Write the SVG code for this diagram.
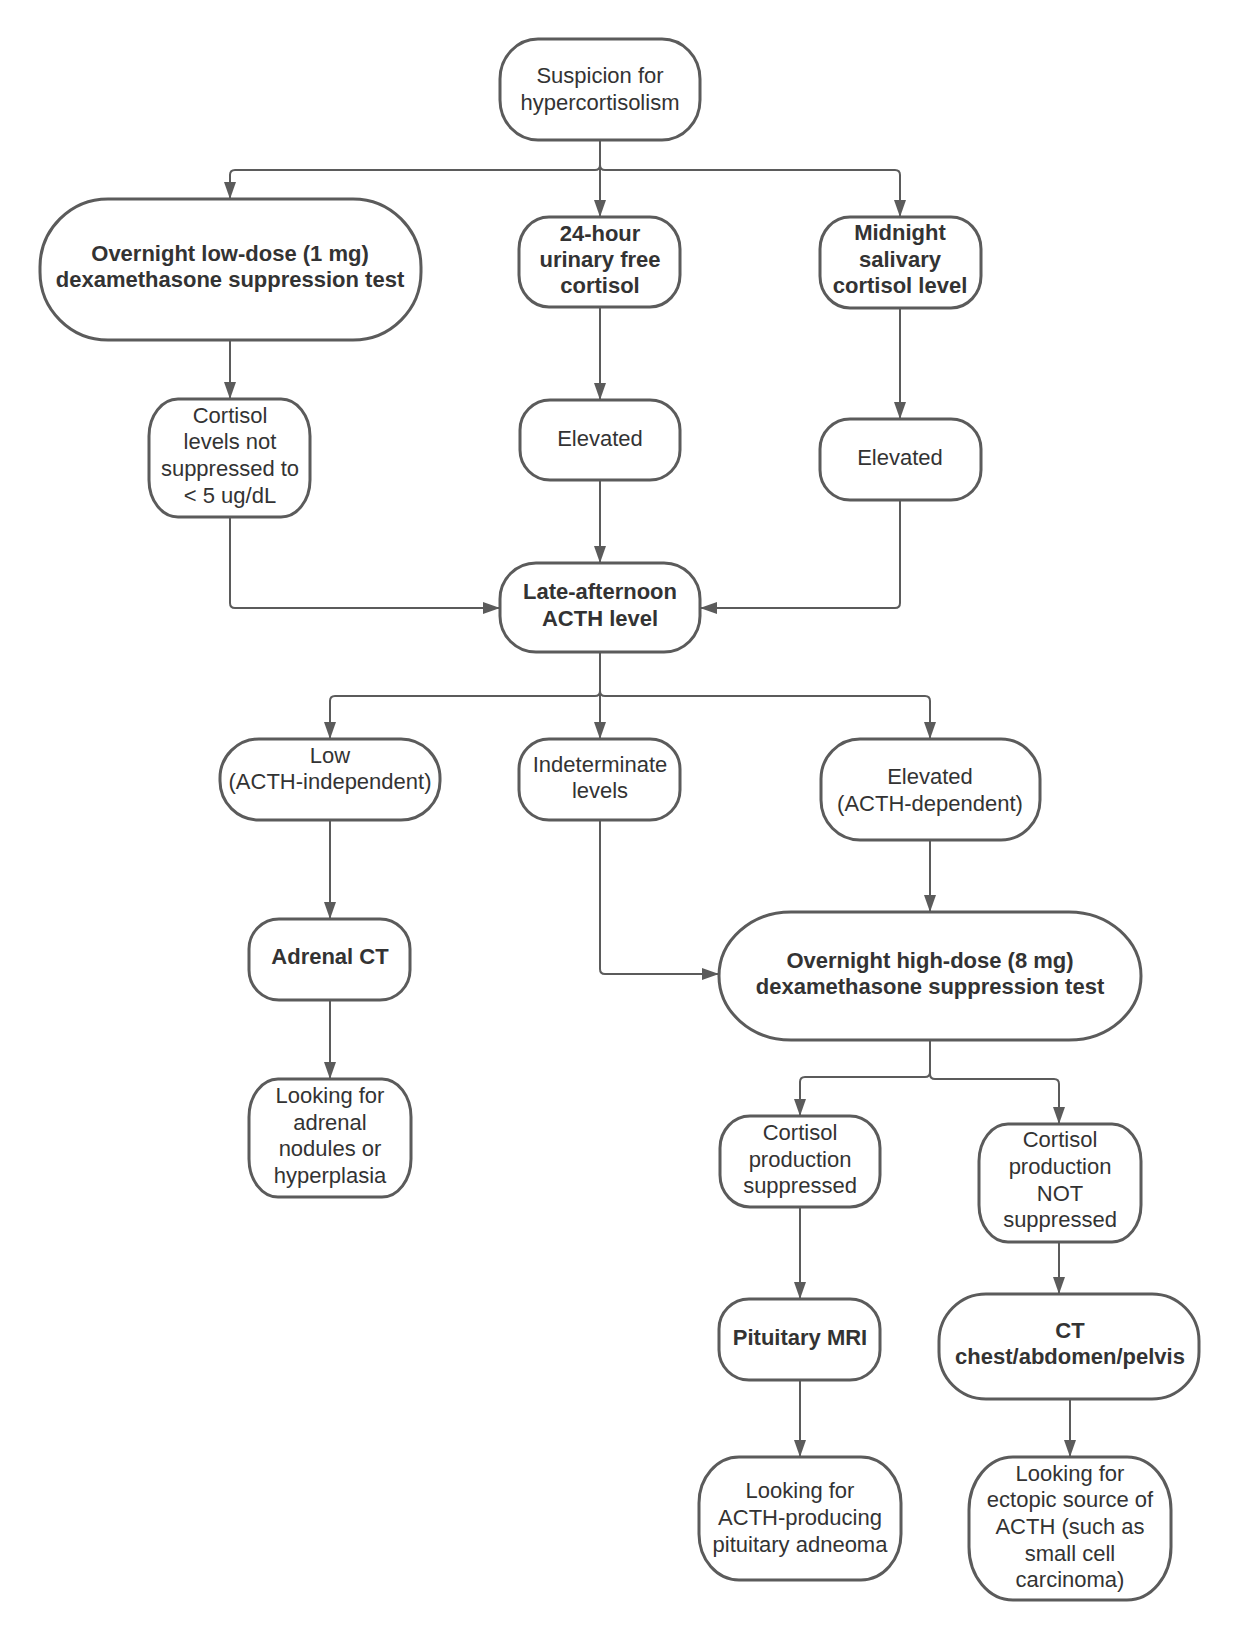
<svg xmlns="http://www.w3.org/2000/svg" width="1240" height="1640" viewBox="0 0 1240 1640">
<defs>
<style>
.n rect{fill:#ffffff;stroke:#5b5b5b;stroke-width:3}
.n text{font-family:"Liberation Sans",Arial,sans-serif;font-size:22px;fill:#333333;text-anchor:middle}
.n text.b{font-weight:bold}
#connectors path{fill:none;stroke:#5b5b5b;stroke-width:2}
#connectors path.a{marker-end:url(#arr)}
</style>
<marker id="arr" markerUnits="userSpaceOnUse" markerWidth="18" markerHeight="12" refX="17" refY="6" orient="auto">
<path d="M0,0 L17,6 L0,12 z" fill="#5b5b5b"/>
</marker>
</defs>
<rect x="0" y="0" width="1240" height="1640" fill="#ffffff"/>
<g id="connectors">
<path class="a" d="M600,140 V165 Q600,170 595,170 H235 Q230,170 230,175 V199"/>
<path class="a" d="M600,140 V217"/>
<path class="a" d="M600,140 V165 Q600,170 605,170 H895 Q900,170 900,175 V217"/>
<path class="a" d="M230,340 V399"/>
<path class="a" d="M600,307 V400"/>
<path class="a" d="M900,308 V419"/>
<path class="a" d="M230,517 V603 Q230,608 235,608 H500"/>
<path class="a" d="M600,480 V563"/>
<path class="a" d="M900,500 V603 Q900,608 895,608 H700"/>
<path class="a" d="M600,652 V691 Q600,696 595,696 H335 Q330,696 330,701 V739"/>
<path class="a" d="M600,652 V739"/>
<path class="a" d="M600,652 V691 Q600,696 605,696 H925 Q930,696 930,701 V739"/>
<path class="a" d="M330,820 V919"/>
<path class="a" d="M330,1000 V1079"/>
<path class="a" d="M600,820 V969 Q600,974 605,974 H719"/>
<path class="a" d="M930,840 V912"/>
<path class="a" d="M930,1040 V1072 Q930,1077 925,1077 H805 Q800,1077 800,1082 V1116"/>
<path class="a" d="M930,1040 V1074 Q930,1079 935,1079 H1054 Q1059,1079 1059,1084 V1124"/>
<path class="a" d="M800,1207 V1299"/>
<path class="a" d="M1059,1242 V1294"/>
<path class="a" d="M800,1380 V1457"/>
<path class="a" d="M1070,1399 V1457"/>
</g>
<g id="n1" class="n"><rect x="500" y="39" width="200" height="101" rx="38" ry="40"/>
<text x="600" y="83">Suspicion for</text><text x="600" y="109.5">hypercortisolism</text></g>
<g id="n2" class="n"><rect x="40" y="199" width="381" height="141" rx="68" ry="68"/>
<text class="b" x="230" y="261">Overnight low-dose (1 mg)</text><text class="b" x="230" y="287">dexamethasone suppression test</text></g>
<g id="n3" class="n"><rect x="519" y="217" width="161" height="90" rx="30" ry="32"/>
<text class="b" x="600" y="241">24-hour</text><text class="b" x="600" y="267">urinary free</text><text class="b" x="600" y="293">cortisol</text></g>
<g id="n4" class="n"><rect x="820" y="217" width="161" height="91" rx="30" ry="32"/>
<text class="b" x="900" y="240">Midnight</text><text class="b" x="900" y="267">salivary</text><text class="b" x="900" y="293">cortisol level</text></g>
<g id="n5" class="n"><rect x="149" y="399" width="161" height="118" rx="29" ry="37"/>
<text x="230" y="423">Cortisol</text><text x="230" y="449">levels not</text><text x="230" y="476">suppressed to</text><text x="230" y="502.5">&lt; 5 ug/dL</text></g>
<g id="n6" class="n"><rect x="520" y="400" width="160" height="80" rx="30" ry="30"/>
<text x="600" y="446">Elevated</text></g>
<g id="n7" class="n"><rect x="820" y="419" width="161" height="81" rx="30" ry="30"/>
<text x="900" y="465">Elevated</text></g>
<g id="n8" class="n"><rect x="500" y="563" width="200" height="89" rx="36" ry="36"/>
<text class="b" x="600" y="599">Late-afternoon</text><text class="b" x="600" y="626">ACTH level</text></g>
<g id="n9" class="n"><rect x="220" y="739" width="220" height="81" rx="39" ry="39"/>
<text x="330" y="763">Low</text><text x="330" y="789">(ACTH-independent)</text></g>
<g id="n10" class="n"><rect x="519" y="739" width="161" height="81" rx="30" ry="30"/>
<text x="600" y="772">Indeterminate</text><text x="600" y="798">levels</text></g>
<g id="n11" class="n"><rect x="821" y="739" width="219" height="101" rx="39" ry="40"/>
<text x="930" y="784">Elevated</text><text x="930" y="810.5">(ACTH-dependent)</text></g>
<g id="n12" class="n"><rect x="249" y="919" width="161" height="81" rx="30" ry="30"/>
<text class="b" x="330" y="964">Adrenal CT</text></g>
<g id="n13" class="n"><rect x="719" y="912" width="422" height="128" rx="72" ry="64"/>
<text class="b" x="930" y="968">Overnight high-dose (8 mg)</text><text class="b" x="930" y="994">dexamethasone suppression test</text></g>
<g id="n14" class="n"><rect x="249" y="1079" width="162" height="118" rx="29" ry="38"/>
<text x="330" y="1103">Looking for</text><text x="330" y="1129.5">adrenal</text><text x="330" y="1156">nodules or</text><text x="330" y="1182.5">hyperplasia</text></g>
<g id="n15" class="n"><rect x="720" y="1116" width="160" height="91" rx="30" ry="32"/>
<text x="800" y="1140">Cortisol</text><text x="800" y="1166.5">production</text><text x="800" y="1193">suppressed</text></g>
<g id="n16" class="n"><rect x="979" y="1124" width="162" height="118" rx="29" ry="37"/>
<text x="1060" y="1147">Cortisol</text><text x="1060" y="1174">production</text><text x="1060" y="1200.5">NOT</text><text x="1060" y="1227">suppressed</text></g>
<g id="n17" class="n"><rect x="719" y="1299" width="161" height="81" rx="30" ry="30"/>
<text class="b" x="800" y="1345">Pituitary MRI</text></g>
<g id="n18" class="n"><rect x="939" y="1294" width="260" height="105" rx="47" ry="47"/>
<text class="b" x="1070" y="1338">CT</text><text class="b" x="1070" y="1364">chest/abdomen/pelvis</text></g>
<g id="n19" class="n"><rect x="699" y="1457" width="202" height="123" rx="40" ry="46"/>
<text x="800" y="1498">Looking for</text><text x="800" y="1525">ACTH-producing</text><text x="800" y="1552">pituitary adneoma</text></g>
<g id="n20" class="n"><rect x="969" y="1457" width="202" height="143" rx="44" ry="53"/>
<text x="1070" y="1481">Looking for</text><text x="1070" y="1507">ectopic source of</text><text x="1070" y="1534">ACTH (such as</text><text x="1070" y="1560.5">small cell</text><text x="1070" y="1587">carcinoma)</text></g>
</svg>
